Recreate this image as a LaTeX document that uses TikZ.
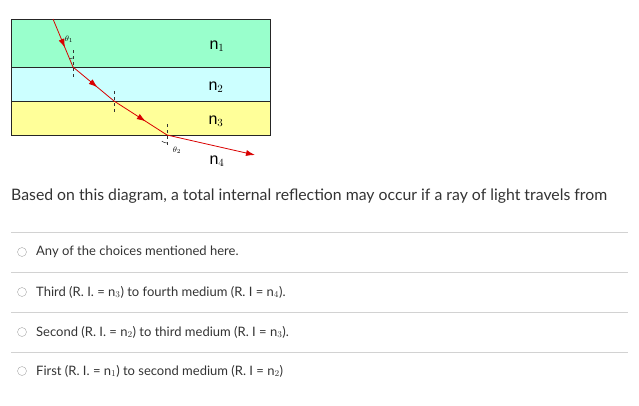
\documentclass[tikz,border=0pt]{standalone}
\usepackage{fontspec}
\setmainfont{Lato}
\newfontfamily\lab{Liberation Sans}
\usetikzlibrary{arrows.meta,decorations.markings}
\begin{document}
\begin{tikzpicture}[x=1pt,y=-1pt,
  ray/.style={red!85!black,line width=0.8pt},
  midarrow/.style={postaction={decorate,decoration={markings,mark=at position 0.6 with {\arrow{Latex[length=9pt,width=6pt]}}}}},
  normal/.style={dashed,gray!40!black,line width=0.6pt},
  sep/.style={gray!35,line width=0.6pt},
  radio/.style={circle,draw=gray!70,minimum size=9pt,inner sep=0pt},
  nlab/.style={font=\lab\fontsize{16}{16}\selectfont},
  opt/.style={anchor=west,font=\fontsize{13}{15}\selectfont,text=black!80,inner sep=0pt}]
\useasboundingbox (0,0) rectangle (639,405);
\fill[fill={rgb,255:red,153;green,255;blue,204}] (11,19) rectangle (270,67);
\fill[fill={rgb,255:red,204;green,255;blue,255}] (11,67) rectangle (270,101);
\fill[fill={rgb,255:red,255;green,255;blue,153}] (11,101) rectangle (270,135);
\draw[gray!30!black,line width=0.7pt] (11,19) rectangle (270,135) (11,67)--(270,67) (11,101)--(270,101);
\node[nlab] (n1) at (217,46) {n$_1$};
\node[nlab] (n2) at (216,87) {n$_2$};
\node[nlab] (n3) at (216,121) {n$_3$};
\node[nlab] (n4) at (217,161) {n$_4$};
\coordinate (p0) at (53,19); \coordinate (p1) at (73,67);
\coordinate (p2) at (114,101); \coordinate (p3) at (167,135); \coordinate (p4) at (255,155);
\draw[normal] (73,50)--(73,78) (114,91)--(114,113) (167,124)--(167,147);
\draw[ray,midarrow] (p0)--(p1);
\draw[ray,midarrow] (p1)--(p2);
\draw[ray,midarrow] (p2)--(p3);
\draw[ray,-{Latex[length=9pt,width=6pt]}] (p3)--(p4);
\draw[gray!30!black,line width=0.5pt] (73,58) arc[start angle=-90,end angle=-112,radius=9];
\draw[gray!30!black,line width=0.5pt] (167,143) arc[start angle=90,end angle=130,radius=8];
\node[font=\lab\fontsize{8}{8}\selectfont] (t1) at (69,39) {$\theta_1$};
\node[font=\lab\fontsize{8}{8}\selectfont] (t2) at (177,150) {$\theta_2$};
\node[anchor=west,inner sep=0,font=\fontsize{15.8}{18}\selectfont,text=black!80] (q) at (11,196) {Based on this diagram, a total internal reflection may occur if a ray of light travels from};
\foreach \y in {232,272,312,352} \draw[sep] (11,\y)--(628,\y);
\foreach \y/\t [count=\i] in {252/{Any of the choices mentioned here.},292/{Third (R. I. = n$_3$) to fourth medium (R. I = n$_4$).},332/{Second (R. I. = n$_2$) to third medium (R. I = n$_3$).},371/{First (R. I. = n$_1$) to second medium (R. I = n$_2$)}}{
  \node[radio] (r\i) at (22,\y) {};
  \node[opt] (o\i) at (36,\y) {\t};}
\end{tikzpicture}
\end{document}
